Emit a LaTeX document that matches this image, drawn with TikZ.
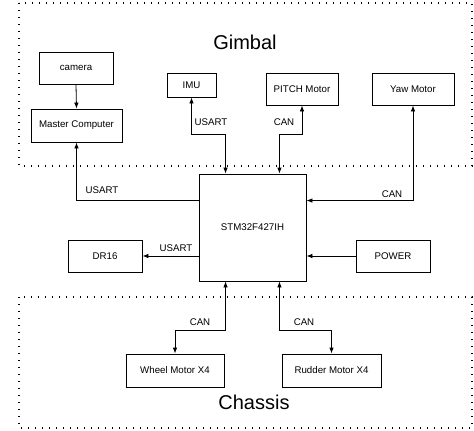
\documentclass[tikz,border=0pt]{standalone}
\usepackage{fontspec}
\setmainfont{Liberation Sans}
\usetikzlibrary{calc}
\usetikzlibrary{arrows.meta}

\tikzset{
  block/.style={draw, line width=0.8pt, inner sep=0pt, font=\fontsize{9.7}{11}\selectfont},
  lbl/.style={inner sep=0pt, font=\fontsize{9.7}{11}\selectfont},
  frame/.style={line width=1.3pt, dash pattern=on 1.3pt off 5.7pt},
  link/.style={line width=0.8pt},
  >={Latex[length=6pt,width=4.5pt]}
}

\begin{document}
\begin{tikzpicture}[x=1pt,y=-1pt]
            \useasboundingbox (0,0) rectangle (474,431);

            % Frames
            \draw[frame] (19,3) rectangle (472,166);
            \draw[frame] (19,297) rectangle (472,428);
            \node[inner sep=0pt, font=\fontsize{20}{24}\selectfont] (gimbal) at (245,42) {Gimbal};
            \node[inner sep=0pt, font=\fontsize{20}{24}\selectfont] (chassis) at (254,402) {Chassis};

            % Blocks
            \node[block, minimum width=74pt, minimum height=32pt] (camera) at (76,68) {camera};
            \node[block, minimum width=91pt, minimum height=33pt] (master) at (76.5,125.5) {Master Computer};
            \node[block, minimum width=49pt, minimum height=24pt] (imu) at (191.5,85) {IMU};
            \node[block, minimum width=72pt, minimum height=32pt] (pitch) at (302,89) {PITCH Motor};
            \node[block, minimum width=82pt, minimum height=32pt] (yaw) at (413,89) {Yaw Motor};
            \node[block, minimum width=107pt, minimum height=107pt] (stm) at (252.5,227.5) {STM32F427IH};
            \node[block, minimum width=74pt, minimum height=32pt] (dr16) at (105,256) {DR16};
            \node[block, minimum width=74pt, minimum height=32pt] (power) at (393,256) {POWER};
            \node[block, minimum width=98pt, minimum height=33pt] (wheel) at (175,370.5) {Wheel Motor X4};
            \node[block, minimum width=99pt, minimum height=33pt] (rudder) at (331.5,370.5) {Rudder Motor X4};

            % Ports on the STM32
            \coordinate (stmNa) at ($(stm.north west)!0.25!(stm.north east)$);
            \coordinate (stmNb) at ($(stm.north west)!0.75!(stm.north east)$);
            \coordinate (stmSa) at ($(stm.south west)!0.25!(stm.south east)$);
            \coordinate (stmSb) at ($(stm.south west)!0.75!(stm.south east)$);
            \coordinate (stmW) at ($(stm.north west)!0.25!(stm.south west)$);
            \coordinate (stmE) at ($(stm.north east)!0.25!(stm.south east)$);

            % Links
            \draw[->, link] (camera.south) -- (master.north);
            \draw[->, link] (stmW) -| (master.south);
            \draw[<->, link] (imu.south) -- ++(0,37) -| (stmNa);
            \draw[<->, link] (pitch.south) -- ++(0,29) -| (stmNb);
            \draw[<->, link] (yaw.south) |- (stmE);
            \draw[->, link] (dr16.east -| stm.west) -- (dr16.east);
            \draw[->, link] (power.west) -- (power.west -| stm.east);
            \draw[<->, link] (stmSa) -- ++(0,49) -| (wheel.north);
            \draw[<->, link] (stmSb) -- ++(0,49) -| (rudder.north);

            % Bus labels
            \node[lbl] (uMaster) at (102,190) {USART};
            \node[lbl] (uImu) at (211,122) {USART};
            \node[lbl] (cPitch) at (284,122) {CAN};
            \node[lbl] (cYaw) at (392,194) {CAN};
            \node[lbl] (uDr) at (176,248) {USART};
            \node[lbl] (cWheel) at (200,322) {CAN};
            \node[lbl] (cRudder) at (304,322) {CAN};
        \end{tikzpicture}
\end{document}
